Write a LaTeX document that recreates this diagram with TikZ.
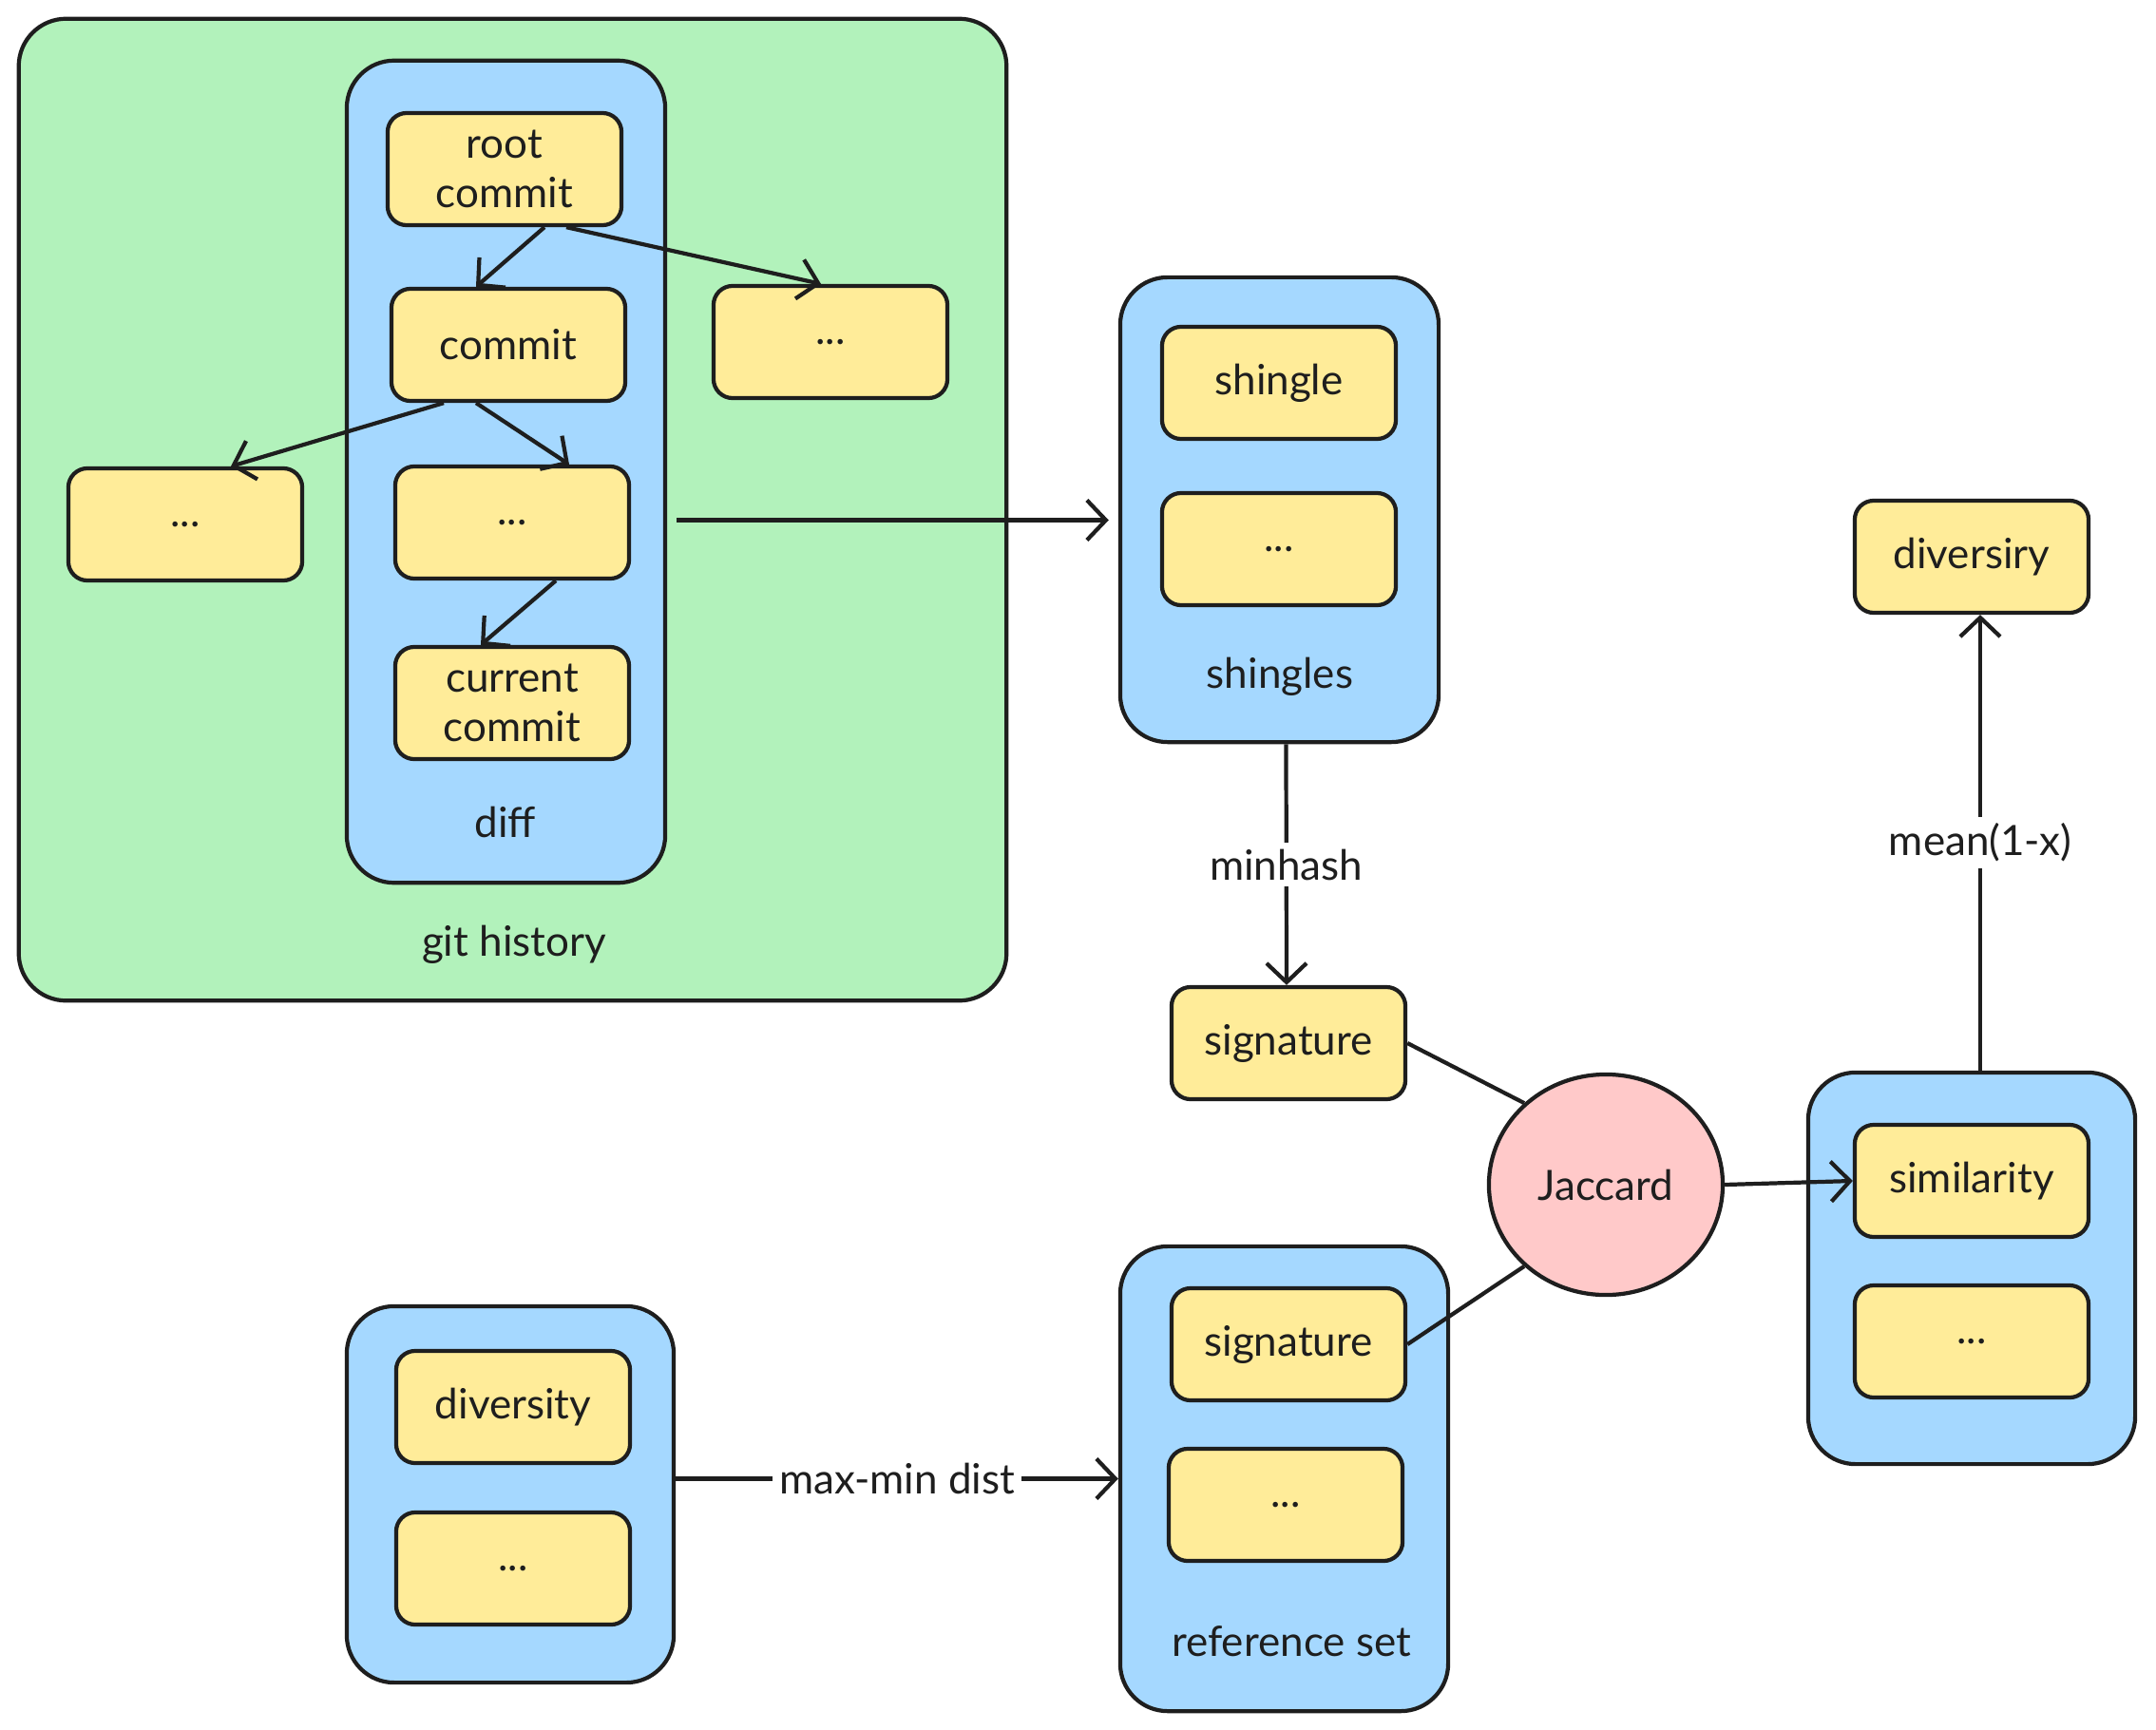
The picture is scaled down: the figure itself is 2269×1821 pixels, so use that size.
\documentclass[tikz,border=0pt]{standalone}
\usepackage{fontspec}
\setmainfont{Lato}
\usetikzlibrary{arrows.meta,calc,shapes.geometric}
\definecolor{ink}{HTML}{1E1E1E}
\definecolor{grn}{HTML}{B2F2BB}
\definecolor{blu}{HTML}{A5D8FF}
\definecolor{yel}{HTML}{FFEC99}
\definecolor{pnk}{HTML}{FFC9C9}
\begin{document}
\begin{tikzpicture}[x=0.01cm,y=-0.01cm,
  every node/.style={font=\fontsize{12.5}{15}\selectfont, text=ink},
  ybox/.style={draw=ink, fill=yel, line width=1.2pt, rounded corners=0.2cm, minimum width=2.46cm, minimum height=1.18cm, align=center, inner sep=0pt},
  bbox/.style={draw=ink, fill=blu, line width=1.2pt, rounded corners=0.5cm, inner sep=0pt},
  gbox/.style={draw=ink, fill=grn, line width=1.2pt, rounded corners=0.5cm, inner sep=0pt},
  arr/.style={draw=ink, line width=1.2pt, -{Straight Barb[length=0.2cm,width=0.42cm,line width=1.2pt]}},
  ln/.style={draw=ink, line width=1.2pt},
  lbl/.style={fill=white, inner sep=2pt}]
\useasboundingbox (0,0) rectangle (2269,1821);
% containers
\node[gbox, minimum width=10.39cm, minimum height=10.33cm] (git) at (539.5,536.5) {};
\node[bbox, minimum width=3.35cm, minimum height=8.65cm] (diff) at (532.5,496.5) {};
\node[bbox, minimum width=3.35cm, minimum height=4.89cm] (shbox) at (1346.5,536.5) {};
\node[bbox, minimum width=3.44cm, minimum height=4.12cm] (simbox) at (2075,1335) {};
\node[bbox, minimum width=3.45cm, minimum height=4.89cm] (refbox) at (1351.5,1556.5) {};
\node[bbox, minimum width=3.44cm, minimum height=3.96cm] (divbox) at (537,1573) {};
% container labels
\node (diffl) at (532,865) {diff};
\node (gitl) at (541,994) {git history};
\node (shl) at (1347,712) {shingles};
\node (refl) at (1359,1728) {reference set};
% yellow boxes
\node[ybox] (rootc) at (531,178) {root\\commit};
\node[ybox] (commit) at (535,363) {commit};
\node[ybox] (dotsR) at (874,360) {...};
\node[ybox] (dotsL) at (195,552) {...};
\node[ybox] (dotsM) at (539,550) {...};
\node[ybox] (curc) at (539,740) {current\\commit};
\node[ybox] (shingle) at (1346,403) {shingle};
\node[ybox] (shdots) at (1346,578) {...};
\node[ybox] (sig1) at (1356,1098) {signature};
\node[ybox] (simil) at (2075,1243) {similarity};
\node[ybox] (simdots) at (2075,1412) {...};
\node[ybox] (divy) at (2075,586) {diversiry};
\node[ybox] (sig2) at (1356,1415) {signature};
\node[ybox] (refdots) at (1353,1584) {...};
\node[ybox] (diversity) at (540,1481) {diversity};
\node[ybox] (divdots) at (540,1651) {...};
% Jaccard
\node[ellipse, draw=ink, fill=pnk, line width=1.2pt, minimum width=2.46cm, minimum height=2.32cm, inner sep=0pt] (jacc) at (1690,1247) {Jaccard};
% git history arrows
\draw[arr] ($(rootc.south)+(42,0)$) -- ($(commit.north)+(-34,0)$);
\draw[arr] ($(rootc.south)+(65,0)$) -- ($(dotsR.north)+(-10,0)$);
\draw[arr] ($(commit.south)+(-68,0)$) -- ($(dotsL.north)+(48,0)$);
\draw[arr] ($(commit.south)+(-34,0)$) -- ($(dotsM.north)+(60,0)$);
\draw[arr] ($(dotsM.south)+(46,0)$) -- ($(curc.north)+(-33,0)$);
% main flow
\draw[arr] ($(diff.east)+(10,51)$) -- ($(shbox.west)+(-10,11)$);
\draw[arr] ($(shbox.south)+(7,0)$) -- node[lbl] (mh) {minhash} ($(sig1.north)+(-2,0)$);
\draw[ln] (sig1.east) -- (jacc.135);
\draw[ln] (sig2.east) -- (jacc.-135);
\draw[arr] (jacc.east) -- (simil.west);
\draw[arr] ($(simbox.north)+(9,0)$) -- node[lbl, pos=0.5] (mean) {mean(1-x)} ($(divy.south)+(9,0)$);
\draw[arr] (divbox.east |- refbox.west) -- node[lbl] (mm) {max-min dist} (refbox.west);
\end{tikzpicture}
\end{document}
